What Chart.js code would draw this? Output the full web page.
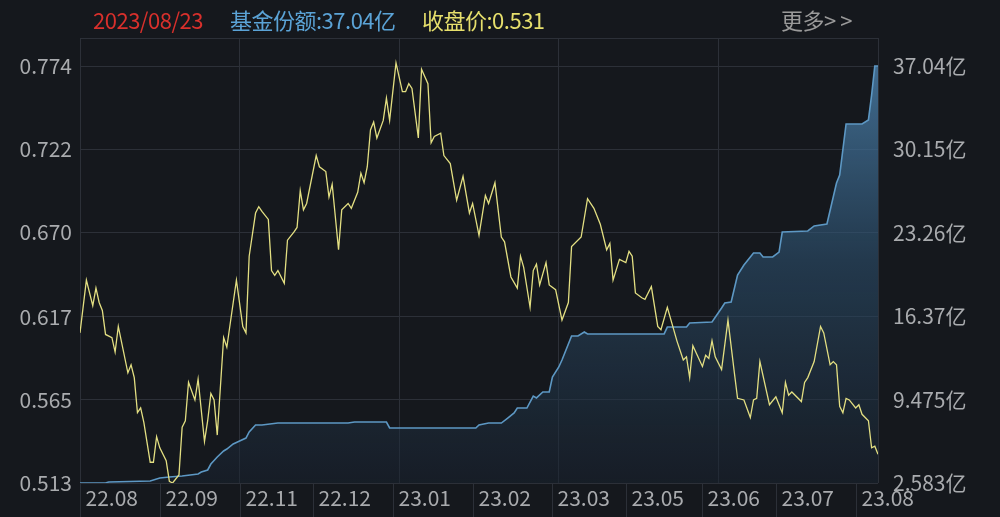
<!DOCTYPE html>
<html><head><meta charset="utf-8">
<script src="https://cdn.jsdelivr.net/npm/chart.js@4"></script>
<style>
html,body{margin:0;padding:0;background:#15181d;width:1000px;height:517px;overflow:hidden}
#wrap{position:absolute;left:0;top:0;width:1000px;height:517px}
.h{position:absolute;top:3px;font:22px "Noto Sans CJK SC",sans-serif;white-space:nowrap;letter-spacing:-0.5px}
</style></head><body>
<div id="wrap"><canvas id="c" width="1000" height="517"></canvas></div>
<div class="h" style="left:93px;color:#d8302c">2023/08/23</div>
<div class="h" style="left:230px;color:#5ba3d6">基金份额:37.04亿</div>
<div class="h" style="left:422px;color:#e6df6c">收盘价:0.531</div>
<div class="h" style="left:781px;color:#9a9a9a">更多&gt; &gt;</div>
<script>
const priceDays=[0,2,4,5,6,7,8,10,11,12,15,16,17,18,19,20,22,23,24,25,27,28,29,31,32,33,34,36,37,39,40,41,42,43,45,46,49,51,52,53,55,56,57,59,60,61,62,64,65,67,68,69,70,71,74,75,77,78,79,81,82,84,85,87,88,89,90,91,92,93,95,96,97,99,101,102,103,104,106,107,109,110,111,113,114,116,118,120,122,123,125,127,128,130,132,133,135,137,138,139,141,142,143,144,146,147,149,151,153,154,157,159,161,163,165,166,167,169,171,172,173,174,176,177,179,181,182,184,186,187,189,190,191,192,195,196,197,198,199,201,203,205,206,208,210,211,212,213,215,216,218,220,221,222,223,226,227,228,230,232,233,235,236,237,238,239,240,241,243,244,245,247,248,249,250];
const priceVals=[0.607,0.640,0.624,0.635,0.626,0.621,0.606,0.604,0.595,0.611,0.582,0.587,0.579,0.557,0.560,0.551,0.526,0.526,0.542,0.535,0.527,0.514,0.513,0.518,0.548,0.552,0.576,0.565,0.578,0.539,0.552,0.569,0.565,0.543,0.604,0.598,0.640,0.611,0.607,0.655,0.682,0.686,0.683,0.678,0.646,0.643,0.646,0.638,0.665,0.670,0.673,0.696,0.684,0.688,0.718,0.711,0.708,0.692,0.700,0.659,0.684,0.688,0.685,0.695,0.707,0.701,0.711,0.734,0.739,0.729,0.740,0.754,0.740,0.776,0.758,0.758,0.763,0.760,0.729,0.772,0.763,0.726,0.730,0.732,0.718,0.713,0.690,0.705,0.682,0.688,0.668,0.693,0.688,0.701,0.667,0.664,0.642,0.635,0.655,0.648,0.623,0.646,0.650,0.637,0.651,0.637,0.634,0.615,0.626,0.661,0.667,0.691,0.685,0.675,0.659,0.663,0.640,0.653,0.651,0.658,0.655,0.632,0.629,0.628,0.636,0.611,0.609,0.623,0.609,0.602,0.590,0.592,0.579,0.599,0.586,0.593,0.591,0.602,0.592,0.584,0.615,0.582,0.566,0.565,0.554,0.565,0.566,0.589,0.571,0.562,0.567,0.557,0.576,0.568,0.570,0.564,0.576,0.579,0.589,0.611,0.607,0.587,0.589,0.587,0.561,0.557,0.566,0.565,0.560,0.562,0.556,0.552,0.535,0.536,0.531];
const shareDays=[0,8,9,22,25,28,32,37,38,40,41,43,45,46,48,50,52,53,55,57,62,84,86,96,97,124,125,128,132,134,136,137,140,142,143,145,147,148,150,151,154,156,158,159,183,184,190,191,198,201,202,204,206,208,211,213,214,217,219,220,228,230,234,237,238,240,245,247,248,249,250];
const shareVals=[2.58,2.58,2.67,2.75,3.00,3.08,3.16,3.33,3.49,3.66,4.15,4.73,5.23,5.39,5.81,6.05,6.30,6.80,7.38,7.38,7.54,7.54,7.62,7.62,7.13,7.13,7.38,7.54,7.54,7.95,8.37,8.78,8.78,9.77,9.61,10.10,10.10,11.34,12.17,12.75,14.73,14.73,15.06,14.90,14.90,15.47,15.47,15.80,15.89,17.04,17.46,17.54,19.77,20.60,21.59,21.59,21.26,21.26,21.67,23.32,23.41,23.82,23.98,27.37,28.03,32.25,32.25,32.58,34.64,37.04,37.04];
const leftTicks=[0.513,0.565,0.617,0.670,0.722,0.774];
const rightTickLabels=['2.583亿','9.475亿','16.37亿','23.26亿','30.15亿','37.04亿'];
const monthLabels=['22.08','22.09','22.11','22.12','23.01','23.02','23.03','23.05','23.06','23.07','23.08'];
const monthStartDays=[0,25,50,73,98,123,148,171,195,218,243];

const rMin=2.583,rStep=(37.04-2.583)/5;
const rightTicks=rightTickLabels.map((_,i)=>rMin+rStep*i);
const FONT='"Noto Sans CJK SC",sans-serif';
const gridC='#2c3038', txtC='#a9abae';

const deco={id:'deco',afterDraw(ch){
  const {ctx,chartArea:a,scales:{x}}=ch;
  ctx.save();
  ctx.strokeStyle=gridC;ctx.lineWidth=1;
  ctx.beginPath();ctx.moveTo(a.left,a.top+0.5);ctx.lineTo(a.right,a.top+0.5);ctx.stroke();
  ctx.font='21px '+FONT;ctx.fillStyle=txtC;ctx.textBaseline='middle';ctx.textAlign='left';
  monthStartDays.forEach((d,i)=>{
    const px=Math.round(x.getPixelForValue(d))+0.5;
    ctx.beginPath();ctx.moveTo(px,a.bottom);ctx.lineTo(px,517);ctx.stroke();
    ctx.fillText(monthLabels[i],px+5,a.bottom+15);
  });
  ctx.restore();
}};

const ctx=document.getElementById('c').getContext('2d');
new Chart(ctx,{
  type:'line',
  data:{datasets:[
    {label:'收盘价',data:priceDays.map((d,i)=>({x:d,y:priceVals[i]})),yAxisID:'y',borderColor:'#e3df82',borderWidth:1.3,pointRadius:0,tension:0,order:1},
    {label:'基金份额',data:shareDays.map((d,i)=>({x:d,y:shareVals[i]})),yAxisID:'y2',borderColor:'#5d98c4',borderWidth:1.6,pointRadius:0,tension:0,order:2,fill:'start',
     backgroundColor:(c)=>{const a=c.chart.chartArea;if(!a)return 'rgba(0,0,0,0)';const g=c.chart.ctx.createLinearGradient(0,a.top,0,a.bottom);g.addColorStop(0,'rgba(80,135,180,0.85)');g.addColorStop(0.5,'rgba(45,80,110,0.6)');g.addColorStop(1,'rgba(25,35,48,0.5)');return g;}}
  ]},
  options:{
    responsive:false,animation:false,
    layout:{padding:{top:38,bottom:0,left:0,right:0}},
    plugins:{legend:{display:false},tooltip:{enabled:false}},
    scales:{
      x:{type:'linear',min:0,max:250,ticks:{display:false,stepSize:50},grid:{color:gridC,drawTicks:false},border:{display:false},
         afterFit(s){s.height=34;}},
      y:{position:'left',min:0.513,max:0.7916,
         afterBuildTicks(s){s.ticks=leftTicks.map(v=>({value:v}));},
         ticks:{color:txtC,font:{size:21,family:FONT},padding:8,callback:v=>v.toFixed(3)},
         grid:{color:gridC,drawTicks:false},border:{display:false},
         afterFit(s){s.width=80;}},
      y2:{position:'right',min:rMin,max:rMin+rStep*5*(445/417),
         afterBuildTicks(s){s.ticks=rightTicks.map(v=>({value:v}));},
         ticks:{color:txtC,font:{size:21,family:FONT},padding:7,callback:(v,i)=>rightTickLabels[i]},
         grid:{display:false},border:{display:false},
         afterFit(s){s.width=122;}}
    }
  },
  plugins:[deco]
});
</script></body></html>
